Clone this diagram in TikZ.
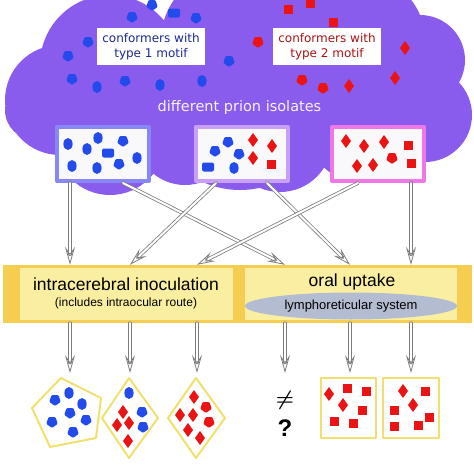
\documentclass[tikz,border=0pt]{standalone}
\usepackage{fontspec}
\setmainfont{Liberation Sans}
\newfontfamily\cloudfont{DejaVu Sans}
\usetikzlibrary{arrows.meta,shapes.geometric}

\definecolor{cloudpurple}{RGB}{138,92,238}
\definecolor{typeoneblue}{RGB}{30,40,150}
\definecolor{typetwored}{RGB}{170,20,20}
\definecolor{blueshape}{RGB}{35,75,235}
\definecolor{redshape}{RGB}{235,20,20}
\definecolor{isoone}{RGB}{135,135,245}
\definecolor{isotwo}{RGB}{200,160,245}
\definecolor{isothree}{RGB}{240,120,230}
\definecolor{paper}{RGB}{249,249,252}
\definecolor{barout}{RGB}{245,205,80}
\definecolor{barin}{RGB}{250,238,160}
\definecolor{lymph}{RGB}{180,188,210}
\definecolor{resframe}{RGB}{240,225,110}
\definecolor{flowgray}{RGB}{125,125,125}

\newcommand{\pentshape}[2]{\fill[rounded corners=1pt] (#1,#2) +(90:6) -- +(162:6) -- +(234:6) -- +(306:6) -- +(18:6) -- cycle;}
\newcommand{\diashape}[2]{\fill (#1,#2) +(0,-7) -- +(5,0) -- +(0,7) -- +(-5,0) -- cycle;}
\newcommand{\sqshape}[2]{\fill (#1,#2) +(-4.5,-4.5) rectangle +(4.5,4.5);}
\newcommand{\ovshape}[2]{\fill (#1,#2) ellipse (4.6 and 6);}
\newcommand{\rsqshape}[2]{\fill[rounded corners=2pt] (#1,#2) +(-6,-4.5) rectangle +(6,4.5);}

\tikzset{
	label box/.style={fill=white,inner sep=3pt,minimum width=108pt,minimum height=37pt,align=center,font=\cloudfont\fontsize{12}{15}\selectfont},
	isolate/.style={draw=#1,line width=4pt,fill=paper,minimum width=92pt,minimum height=54pt},
	flow/.style={draw=flowgray,line width=0.8pt,double=white,double distance=2pt,-{Stealth[open,length=18pt,width=10pt,inset=7pt]}},
	panel/.style={fill=barin,minimum height=52pt,inner sep=0pt},
	resline/.style={draw=resframe,line width=2pt,fill=white,line join=round}
}

\begin{document}
\begin{tikzpicture}[x=1pt,y=-1pt,line cap=round,line join=round]
				\useasboundingbox (0,0) rectangle (474,474);
				\clip (0,0) rectangle (474,474);

				\fill[cloudpurple] (60,100) circle (55) (110,65) circle (70) (240,45) circle (80)
					(360,40) circle (65) (420,60) circle (45) (425,115) circle (47)
					(110,140) circle (55) (185,135) circle (50) (280,140) circle (52)
					(360,130) circle (52) (240,100) circle (90) (35,110) circle (30);

				\node[label box,text=typeoneblue] (typeone) at (151,46.5) {conformers with\\type 1 motif};
				\node[label box,text=typetwored] (typetwo) at (327,46.5) {conformers with\\type 2 motif};
				\node[text=white!92!cloudpurple,font=\cloudfont\fontsize{14.5}{17}\selectfont] (isolates) at (239.5,107) {different prion isolates};

				\begin{scope}[fill=blueshape]
				\foreach \x/\y in {152/5,132/17,196/18,88/42,68/56,229/61,72/79,125/81}
				{\pentshape{\x}{\y}}
				\rsqshape{174}{13}
				\foreach \x/\y in {97/87,160/85,202/81}
				{\ovshape{\x}{\y}}
				\end{scope}
				\begin{scope}[fill=redshape]
				\foreach \x/\y in {288/9,310/3,333/22}
				{\sqshape{\x}{\y}}
				\foreach \x/\y in {258/42,302/80,323/88}
				{\pentshape{\x}{\y}}
				\foreach \x/\y in {405/48,349/86,395/78}
				{\diashape{\x}{\y}}
				\end{scope}

				\node[isolate=isoone] (iso1) at (103,154) {};
				\node[isolate=isotwo] (iso2) at (241.5,154) {};
				\node[isolate=isothree] (iso3) at (378,154) {};

				\begin{scope}[fill=blueshape]
				\foreach \x/\y in {68/144,87/149,98/138,137/158,72/166,97/168,234/168}
				{\ovshape{\x}{\y}}
				\foreach \x/\y in {123/141,119/164,215/151,228/142,239/154}
				{\pentshape{\x}{\y}}
				\rsqshape{108}{153}
				\rsqshape{208}{167}
				\end{scope}
				\begin{scope}[fill=redshape]
				\foreach \x/\y in {253/140,272/146,253/158,346/141,364/146,384/142,357/166,373/165}
				{\diashape{\x}{\y}}
				\foreach \x/\y in {271/164,408/145,411/163}
				{\sqshape{\x}{\y}}
				\pentshape{392}{158}
				\end{scope}

				\node[fill=barout,minimum width=469pt,minimum height=58pt,inner sep=0pt] (route) at (237.5,294) {};
				\node[panel,minimum width=213pt] (icpanel) at (126.5,294) {};
				\node[panel,minimum width=212pt] (oralpanel) at (351,294) {};
				\node[font=\fontsize{17.5}{20}\selectfont] (ictext) at (126,284) {intracerebral inoculation};
				\node[font=\fontsize{12}{14}\selectfont] (icnote) at (126,303) {(includes intraocular route)};
				\node[font=\fontsize{17.5}{20}\selectfont] (oraltext) at (352,282) {oral uptake};
				\node[ellipse,fill=lymph,minimum width=212pt,minimum height=27pt,inner sep=0pt,font=\fontsize{13}{15}\selectfont] (lrs) at (351,306) {lymphoreticular system};

				\foreach \x [count=\i] in {70,130,197,285,350,411}
				\coordinate (r\i) at (\x,373);

				\draw[flow] ([xshift=-33pt]iso1.south) -- (route.north -| r1);
				\draw[flow] ([xshift=20pt]iso1.south) -- (route.north -| r4);
				\draw[flow] ([xshift=-25.5pt]iso2.south) -- (route.north -| r2);
				\draw[flow] ([xshift=25.5pt]iso2.south) -- (route.north -| r5);
				\draw[flow] ([xshift=-20pt]iso3.south) -- (route.north -| r3);
				\draw[flow] ([xshift=33pt]iso3.south) -- (route.north -| r6);
				\foreach \i in {1,...,6}
				\draw[flow] (route.south -| r\i) -- (r\i);

				\draw[resline] (61,378) -- (101,398) -- (96,438) -- (50,447) -- (32,408) -- cycle;
				\draw[resline] (129,378) -- (158,418) -- (129,458) -- (102,418) -- cycle;
				\draw[resline] (196,378) -- (225,418) -- (196,458) -- (168,418) -- cycle;
				\draw[resline] (321,378) rectangle (376,438);
				\draw[resline] (383,378) rectangle (439,438);

				\begin{scope}[fill=blueshape]
				\foreach \x/\y in {69/393,82/404,129/393}
				{\ovshape{\x}{\y}}
				\foreach \x/\y in {55/400,70/413,52/422,86/420,73/432,142/412,143/427}
				{\pentshape{\x}{\y}}
				\end{scope}
				\begin{scope}[fill=redshape]
				\foreach \x/\y in {123/412,117/425,129/423,128/441,194/397,180/415,193/415,188/430,200/438,329/394,343/405,403/391,413/405}
				{\diashape{\x}{\y}}
				\foreach \x/\y in {206/407,209/422}
				{\pentshape{\x}{\y}}
				\foreach \x/\y in {347/388,366/391,362/410,334/421,353/423,425/391,394/410,429/417,394/426,418/425}
				{\sqshape{\x}{\y}}
				\end{scope}

				\node[font=\boldmath\fontsize{20}{22}\selectfont] (noteq) at (285,400) {$\neq$};
				\node[font=\bfseries\fontsize{24}{26}\selectfont] (unknown) at (285,428) {?};
\end{tikzpicture}
\end{document}
